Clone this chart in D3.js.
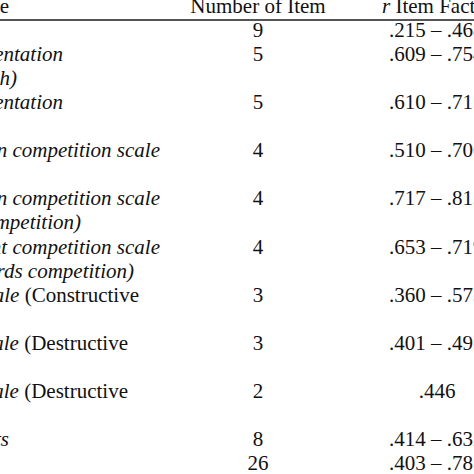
<!DOCTYPE html>
<html><head><meta charset="utf-8">
<script src="https://cdn.jsdelivr.net/npm/d3@7"></script>
<style>body{margin:0;background:#fff}svg{display:block}</style>
</head><body>
<svg id="tbl"></svg>
<script>
// label lines: [line index, italic part, roman part, right edge x]
const labelLines = [
  [2, 'Mastery orientation', '', 63],
  [3, '(approach)', '', 17],
  [4, 'Performance orientation', '', 63],
  [6, 'Hypercompetition competition scale', '', 160],
  [8, 'Hypercompetition competition scale', '', 160],
  [9, '(hyper competition)', '', 81],
  [10, 'Personal development competition scale', '', 160],
  [11, '(attitude towards competition)', '', 134],
  [12, 'Conflict scale', ' (Constructive', 139],
  [14, 'Conflict scale', ' (Destructive', 128],
  [16, 'Conflict scale', ' (Destructive', 128],
  [18, 'Learning contexts', '', 9]
];
const rowLines = [1, 2, 4, 6, 8, 10, 12, 14, 16, 18, 19];
const itemCounts = [9, 5, 5, 4, 4, 4, 3, 3, 2, 8, 26];
const factorRanges = ['.215 – .468', '.609 – .754', '.610 – .715', '.510 – .706', '.717 – .813',
  '.653 – .719', '.360 – .573', '.401 – .495', '.446', '.414 – .632', '.403 – .781'];

const W = 474, H = 474, FS = 21;
const svg = d3.select('#tbl').attr('width', W).attr('height', H)
  .style('font-family', '"Liberation Serif", "Times New Roman", "DejaVu Serif", serif')
  .style('font-size', FS + 'px').attr('fill', '#111');

const y = d3.scaleLinear().domain([0, 19]).range([13, 470]);

// header
svg.append('text').attr('x', 9).attr('y', y(0)).attr('text-anchor', 'end').text('Scale');
svg.append('text').attr('x', 258).attr('y', y(0)).attr('text-anchor', 'middle').text('Number of Item');
const h3 = svg.append('text').attr('x', 382).attr('y', y(0));
h3.append('tspan').style('font-style', 'italic').text('r');
h3.append('tspan').text(' Item Factor');
svg.append('line').attr('x1', 0).attr('x2', W).attr('y1', 20).attr('y2', 20)
  .attr('stroke', '#555').attr('stroke-width', 2);

const lbl = svg.selectAll('.lbl').data(labelLines).enter().append('text')
  .classed('lbl', true)
  .attr('x', d => d[3]).attr('y', d => y(d[0])).attr('text-anchor', 'end');
lbl.append('tspan').style('font-style', 'italic').text(d => d[1]);
lbl.append('tspan').text(d => d[2]);

svg.selectAll('.cnt').data(itemCounts).enter().append('text')
  .classed('cnt', true)
  .attr('x', 258).attr('y', (d, i) => y(rowLines[i])).attr('text-anchor', 'middle')
  .text(d => d);

svg.selectAll('.rng').data(factorRanges).enter().append('text')
  .classed('rng', true)
  .attr('x', d => d.includes('–') ? 389 : 437)
  .attr('text-anchor', d => d.includes('–') ? 'start' : 'middle')
  .attr('y', (d, i) => y(rowLines[i]))
  .text(d => d);
</script>
</body></html>
